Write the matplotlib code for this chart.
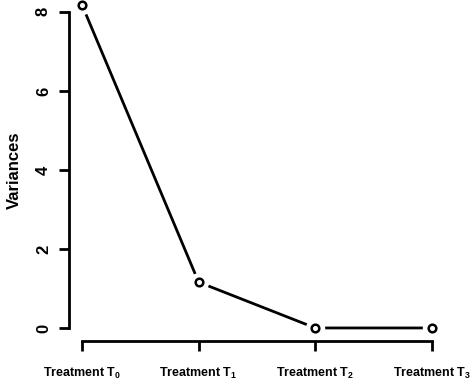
import matplotlib
matplotlib.use("Agg")
import matplotlib.pyplot as plt

plt.rcParams['font.family'] = ['Liberation Sans', 'DejaVu Sans']
plt.rcParams['mathtext.default'] = 'regular'

treatments = ['Treatment T$_0$', 'Treatment T$_1$', 'Treatment T$_2$', 'Treatment T$_3$']
variances = [8.18, 1.16, 0.0, 0.0]
yticks = [0, 2, 4, 6, 8]

fig = plt.figure(figsize=(4.74, 3.80), dpi=100)
ax = fig.add_axes([69 / 474, 39 / 380, 405 / 474, 341 / 380])

x = list(range(len(variances)))
ax.plot(x, variances, color='black', lw=2, zorder=1)
# white halo so the line stops short of each point (R type="b")
ax.plot(x, variances, ls='none', marker='o', ms=14, mfc='white', mec='none', zorder=2)
ax.plot(x, variances, ls='none', marker='o', ms=5.5, mfc='white', mec='black', mew=1.8,
        zorder=3, clip_on=False)

ax.set_xlim(-0.111, 3.36)
ax.set_ylim(-0.33, 8.30)

for s in ['top', 'right']:
    ax.spines[s].set_visible(False)
ax.spines['left'].set_bounds(0, 8)
ax.spines['bottom'].set_bounds(0, 3)
ax.spines['left'].set_linewidth(2)
ax.spines['bottom'].set_linewidth(2)

ax.set_yticks(yticks)
ax.set_yticklabels([str(v) for v in yticks], rotation=90, va='center',
                   fontsize=12, fontweight='bold')
ax.set_xticks(x)
ax.set_xticklabels(treatments, fontsize=9, fontweight='bold')
ax.tick_params(axis='both', length=7, width=2, color='black')
ax.tick_params(axis='y', pad=6)
ax.tick_params(axis='x', pad=11)

ax.set_ylabel('Variances', fontsize=12, fontweight='bold', labelpad=10)

fig.savefig('out.png', dpi=100)
